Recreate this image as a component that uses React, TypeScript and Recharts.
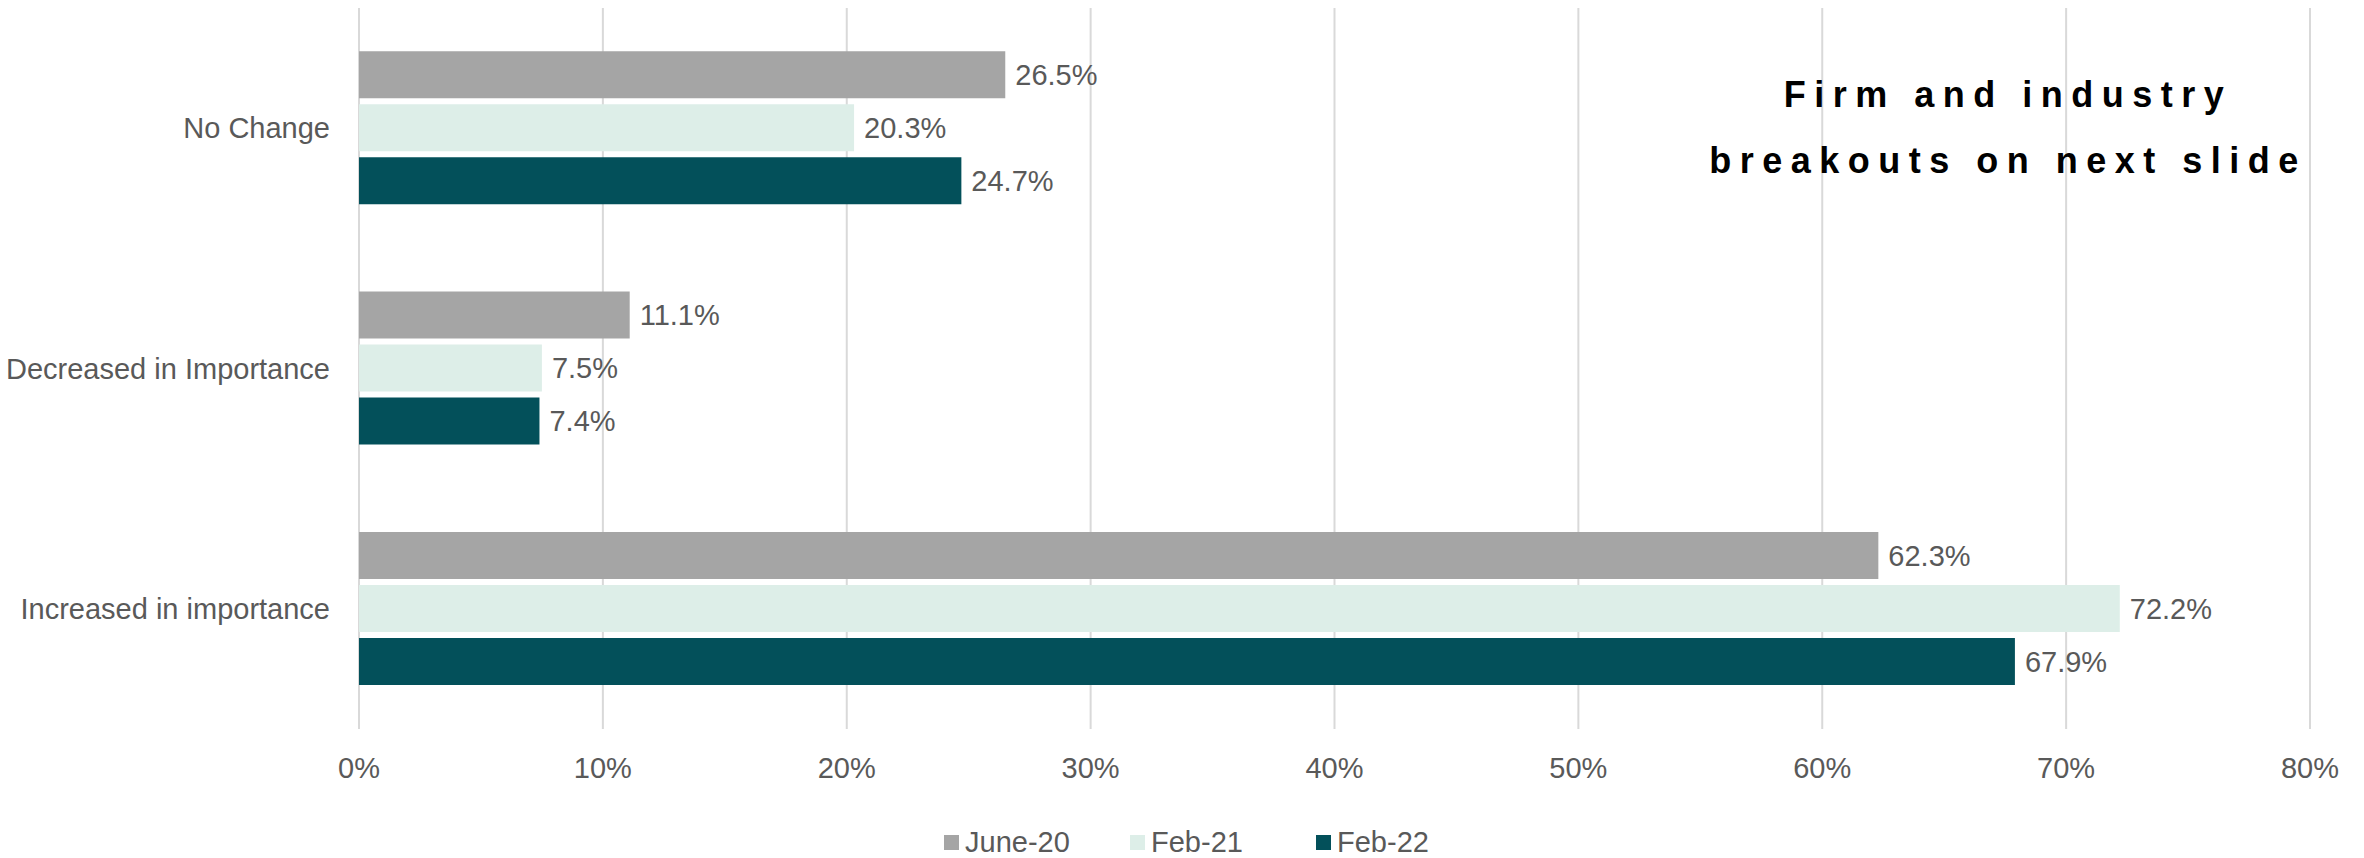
import { BarChart, Bar, XAxis, YAxis, CartesianGrid, LabelList } from 'recharts';

const categories = ['No Change', 'Decreased in Importance', 'Increased in importance'];
const june20 = [26.5, 11.1, 62.3];
const feb21 = [20.3, 7.5, 72.2];
const feb22 = [24.7, 7.4, 67.9];
const xTicks = [0, 10, 20, 30, 40, 50, 60, 70, 80];

const SERIES = [
  { key: 'june20', name: 'June-20', color: '#A5A5A5' },
  { key: 'feb21', name: 'Feb-21', color: '#DDEEE8' },
  { key: 'feb22', name: 'Feb-22', color: '#03505A' },
];

const FONT = '"Liberation Sans", Arial, sans-serif';
const TEXT_COLOR = '#595959';

const chartData = categories.map((name, i) => ({
  name,
  june20: june20[i],
  feb21: feb21[i],
  feb22: feb22[i],
}));

const App = () => {
  return (
    <div style={{ position: 'absolute', left: 0, top: 0, width: 2364, height: 858, background: '#fff', fontFamily: FONT }}>
      <BarChart
        width={2364}
        height={858}
        data={chartData}
        layout="vertical"
        margin={{ top: 8, right: 54, left: 0, bottom: 0 }}
        barCategoryGap="18%"
        barGap={6}
      >
        <CartesianGrid horizontal={false} stroke="#D9D9D9" strokeWidth={2} />
        <XAxis
          type="number"
          domain={[0, 80]}
          ticks={xTicks}
          tickFormatter={(v) => `${v}%`}
          axisLine={false}
          tickLine={false}
          tickMargin={22}
          height={129}
          tick={{ fill: TEXT_COLOR, fontSize: 29, fontFamily: FONT }}
        />
        <YAxis
          type="category"
          dataKey="name"
          width={359}
          axisLine={false}
          tickLine={false}
          tickMargin={23}
          tick={{ fill: TEXT_COLOR, fontSize: 29, fontFamily: FONT }}
        />
        {SERIES.map((s) => (
          <Bar key={s.key} dataKey={s.key} name={s.name} fill={s.color} isAnimationActive={false}>
            <LabelList
              dataKey={s.key}
              position="right"
              offset={10}
              formatter={(v: any) => `${Number(v).toFixed(1)}%`}
              style={{ fill: TEXT_COLOR, fontSize: 29, fontFamily: FONT }}
            />
          </Bar>
        ))}
      </BarChart>

      {/* note, top right */}
      <div
        style={{
          position: 'absolute',
          left: 1658,
          top: 62,
          width: 700,
          textAlign: 'center',
          fontWeight: 'bold',
          fontSize: 36,
          letterSpacing: 8.5,
          lineHeight: '66px',
          color: '#000',
          whiteSpace: 'nowrap',
        }}
      >
        <div>Firm and industry</div>
        <div>breakouts on next slide</div>
      </div>

      {/* legend */}
      <div
        style={{
          position: 'absolute',
          left: 944,
          top: 827,
          height: 30,
          display: 'flex',
          fontSize: 29,
          color: TEXT_COLOR,
        }}
      >
        {SERIES.map((s) => (
          <div key={s.key} style={{ display: 'flex', alignItems: 'center', gap: 6, width: 186 }}>
            <span style={{ display: 'inline-block', width: 15, height: 15, background: s.color }} />
            <span>{s.name}</span>
          </div>
        ))}
      </div>
    </div>
  );
};

export default App;
